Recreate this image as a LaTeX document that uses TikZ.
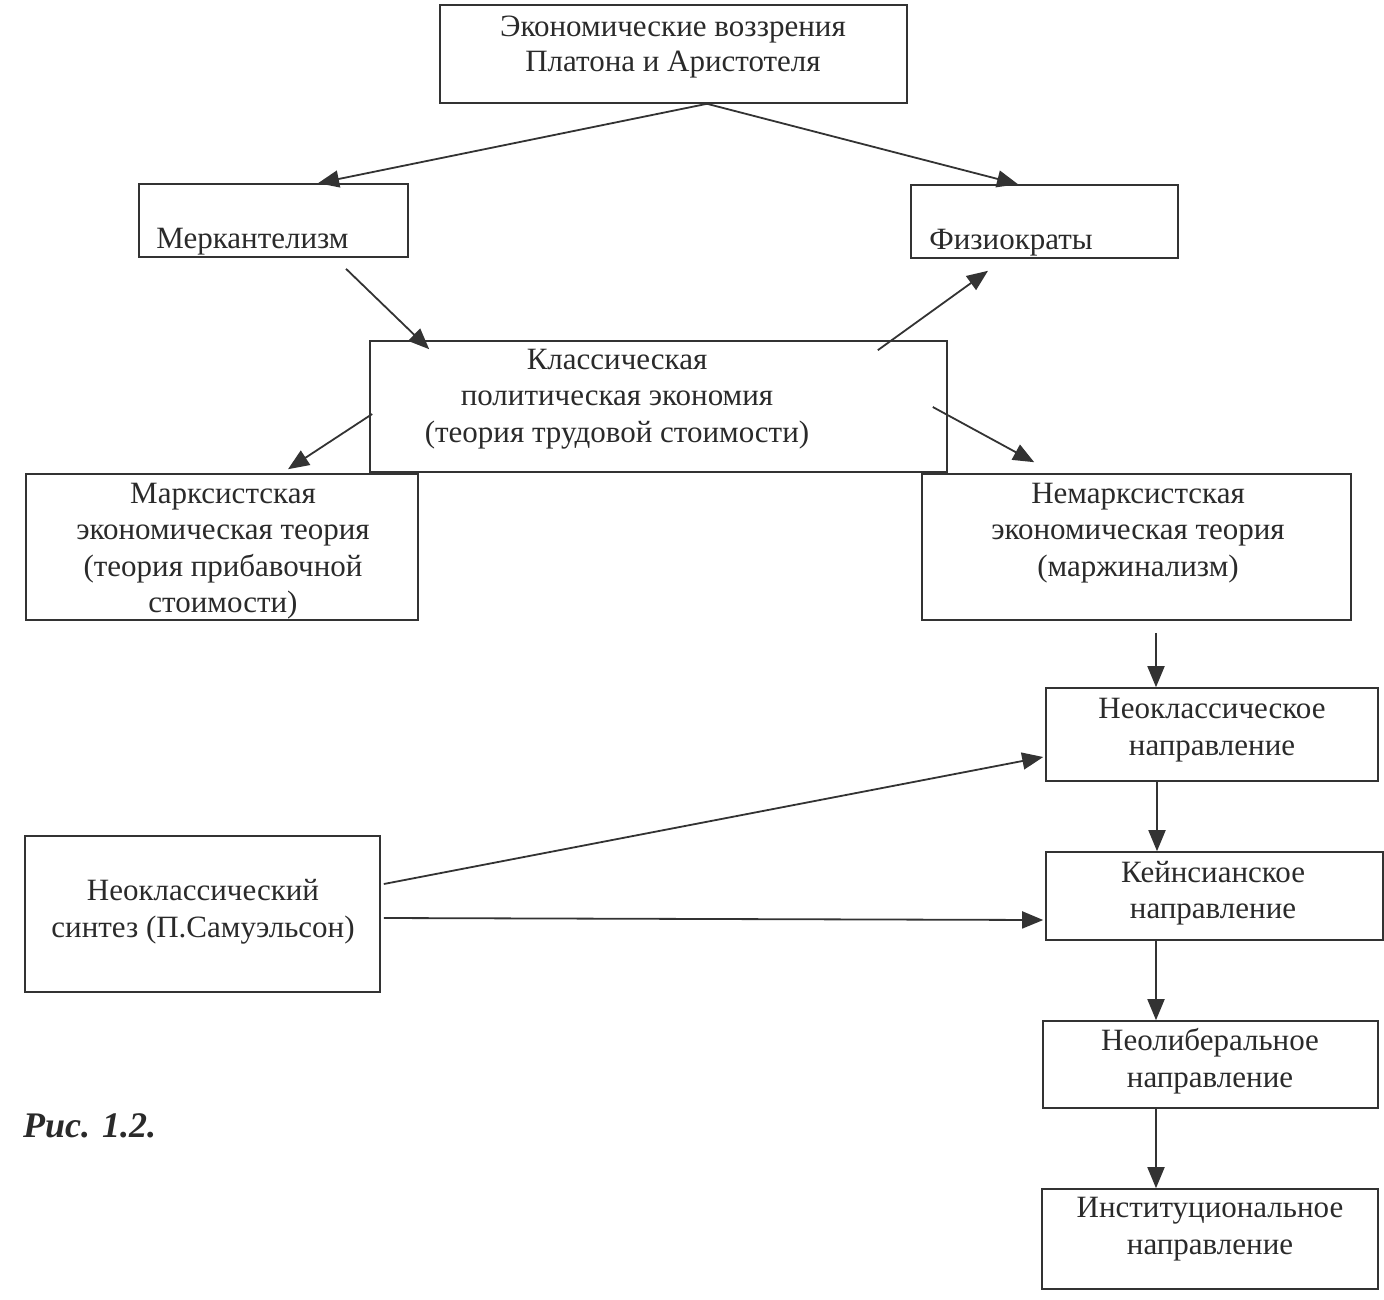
\documentclass[tikz,border=0pt]{standalone}
\usepackage{fontspec}
\setmainfont{Liberation Serif}
\usetikzlibrary{arrows.meta,calc}
\definecolor{ink}{HTML}{2A2A2A}
\definecolor{lin}{HTML}{333333}
\tikzset{
  box/.style={draw=lin, line width=1.6pt, inner sep=0pt},
  txt/.style={text=ink, align=center, font=\fontsize{31}{36.5}\selectfont, inner sep=0pt},
  arr/.style={draw=lin, line width=1.8pt, -{Triangle[length=21pt,width=17pt]}},
}
\begin{document}
\begin{tikzpicture}[x=1pt,y=-1pt]
\useasboundingbox (0,0) rectangle (1384,1299);
% boxes
\node[box, minimum width=467, minimum height=98] (top) at (673.5,54) {};
\node[box, minimum width=269, minimum height=73] (merk) at (273.5,220.5) {};
\node[box, minimum width=267, minimum height=73] (phys) at (1044.5,221.5) {};
\node[box, minimum width=577, minimum height=131] (klass) at (658.5,406.5) {};
\node[box, minimum width=392, minimum height=146] (marx) at (222,547) {};
\node[box, minimum width=429, minimum height=146] (nemarx) at (1136.5,547) {};
\node[box, minimum width=332, minimum height=93] (neocl) at (1212,734.5) {};
\node[box, minimum width=337, minimum height=88] (keyn) at (1214.5,896) {};
\node[box, minimum width=335, minimum height=87] (neolib) at (1210.5,1064.5) {};
\node[box, minimum width=336, minimum height=100] (inst) at (1210,1239) {};
\node[box, minimum width=355, minimum height=156] (synth) at (202.5,914) {};
% texts
\node[txt, font=\fontsize{31}{34.5}\selectfont] (ttop) at (673,47) {Экономические воззрения\\Платона и Аристотеля};
\node[txt, anchor=base west] (tmerk) at ($(merk.south west)+(18,-9)$) {Меркантелизм};
\node[txt, anchor=base west] (tphys) at ($(phys.south west)+(19,-9)$) {Физиократы};
\node[txt] (tklass) at (617,399) {Классическая\\политическая экономия\\(теория трудовой стоимости)};
\node[txt] (tmarx) at (223,551) {Марксистская\\экономическая теория\\(теория прибавочной\\стоимости)};
\node[txt] (tnemarx) at (1138,533) {Немарксистская\\экономическая теория\\(маржинализм)};
\node[txt] (tneocl) at (1212,730) {Неоклассическое\\направление};
\node[txt] (tkeyn) at (1213,893) {Кейнсианское\\направление};
\node[txt] (tneolib) at (1210,1061) {Неолиберальное\\направление};
\node[txt] (tinst) at (1210,1229) {Институциональное\\направление};
\node[txt] (tsynth) at (203,911.5) {Неоклассический\\синтез (П.Самуэльсон)};
\node[txt, anchor=west, font=\fontsize{36}{40}\selectfont\bfseries\itshape] (fig) at (23,1126) {Рис. 1.2.};
% connectors
\draw[arr] ($(top.south)+(33.5,0)$) -- ($(merk.north)+(44.5,0)$);
\draw[arr] ($(top.south)+(33.5,0)$) -- ($(phys.north)+(-26.5,0)$);
\draw[arr] ($(merk.south)+(72.5,11)$) -- ($(klass.north west)+(60,9)$);
\draw[arr] ($(klass.north east)+(-70,10)$) -- ($(phys.south)+(-56.5,12)$);
\draw[arr] ($(klass.west)+(3,7.5)$) -- ($(marx.north)+(66,-4)$);
\draw[arr] ($(klass.east)+(-15,0.5)$) -- ($(nemarx.north west)+(113,-11)$);
\draw[arr] ($(nemarx.south)+(19.5,12)$) -- ($(neocl.north)+(-56,0)$);
\draw[arr] ($(neocl.south)+(-55,0)$) -- ($(keyn.north)+(-57.5,0)$);
\draw[arr] ($(keyn.south)+(-58.5,0)$) -- ($(neolib.north)+(-54.5,0)$);
\draw[arr] ($(neolib.south)+(-54.5,0)$) -- ($(inst.north)+(-54,0)$);
\draw[arr] ($(synth.east)+(3,-30)$) -- ($(neocl.west)+(-2,22.5)$);
\draw[arr] ($(synth.east)+(3,4)$) -- ($(keyn.west)+(-2,24)$);
\end{tikzpicture}
\end{document}
